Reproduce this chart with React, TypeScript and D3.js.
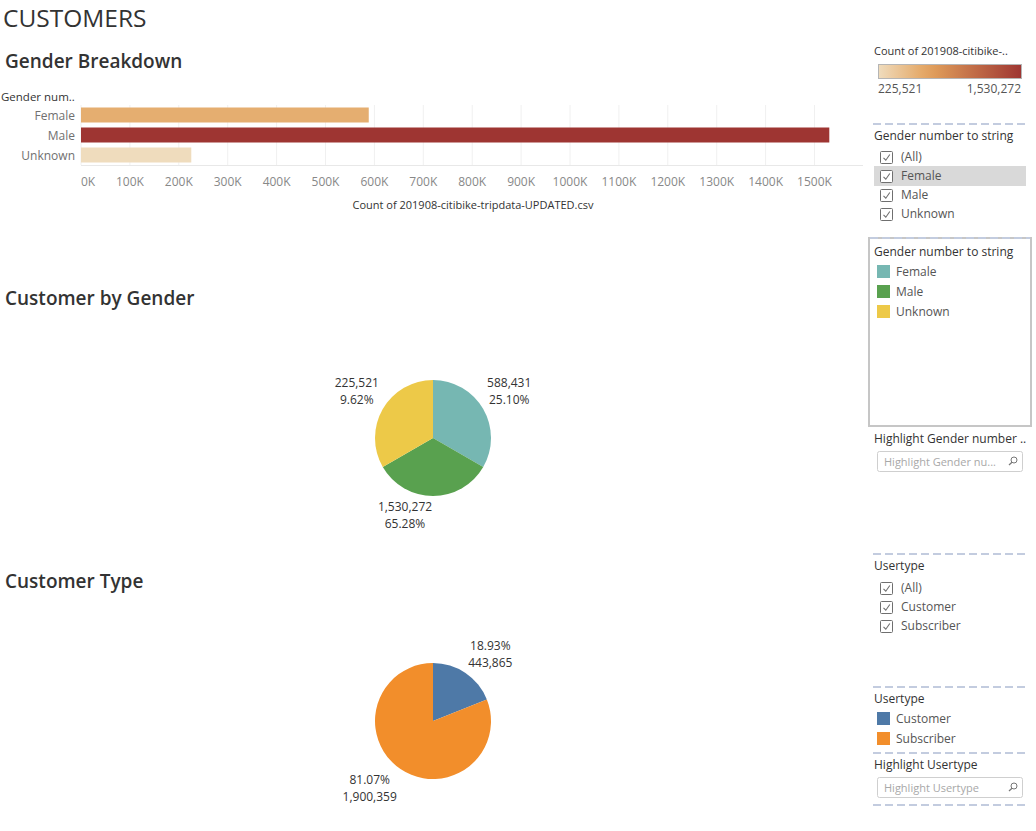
import React from 'react';
import * as d3 from 'd3';

const genders = ['Female', 'Male', 'Unknown'];
const genderCounts = [588431, 1530272, 225521];
// the gender pie's angle encodes a distinct count (one per gender), so the slices are equal
const genderSliceCount = [1, 1, 1];
const genderPieColors = ['#76b7b2', '#59a14f', '#edc948'];
const xTickValues = [0, 100000, 200000, 300000, 400000, 500000, 600000, 700000, 800000, 900000, 1000000, 1100000, 1200000, 1300000, 1400000, 1500000];
const userTypes = ['Customer', 'Subscriber'];
const userTypeCounts = [443865, 1900359];
const userTypeColors = ['#4e79a7', '#f28e2b'];
const genderFilterItems = ['(All)', 'Female', 'Male', 'Unknown'];
const userFilterItems = ['(All)', 'Customer', 'Subscriber'];

const FONT = '"Open Sans", "DejaVu Sans", sans-serif';
const fmt = d3.format(',');
const pct = (v: number, t: number) => (100 * v / t).toFixed(2) + '%';
const DY = 1; // baseline correction for "middle" text

function CheckBox({ x, y }: { x: number; y: number }) {
  return (
    <g transform={`translate(${x},${y})`}>
      <rect x={0.5} y={0.5} width={12} height={12} rx={1} fill="#fff" stroke="#6f6f6f" />
      <path d="M3.5 6.8 L5.8 9.2 L9.8 3.5" fill="none" stroke="#6f6f6f" strokeWidth={1.1} />
    </g>
  );
}

function SearchBox({ x, y, w, h, text }: { x: number; y: number; w: number; h: number; text: string }) {
  return (
    <g>
      <rect x={x + 0.5} y={y + 0.5} width={w} height={h} rx={2} fill="#fff" stroke="#cfcfcf" />
      <text x={x + 7} y={y + h / 2 + 1 + DY} fontSize={11} fill="#a8a8a8" dominantBaseline="middle" fontFamily={FONT}>{text}</text>
      <circle cx={x + w - 8} cy={y + h / 2 - 1} r={3} fill="none" stroke="#777" strokeWidth={1} />
      <line x1={x + w - 10} y1={y + h / 2 + 1.2} x2={x + w - 13} y2={y + h / 2 + 4} stroke="#777" strokeWidth={1.2} />
    </g>
  );
}

function Dash({ y }: { y: number }) {
  return <line x1={873} x2={1026} y1={y} y2={y} stroke="#c3ccdf" strokeWidth={2} strokeDasharray="8 4" />;
}

export default function App() {
  // ---- bar chart
  const x = d3.scaleLinear().domain([0, 1600000]).range([81, 863.4]);
  const y = d3.scaleBand<string>().domain(genders).range([105, 165]).paddingInner(0.25).paddingOuter(0.125);
  const colorExtent = d3.extent(genderCounts) as [number, number];
  const color = d3.scaleLinear<string>()
    .domain([colorExtent[0], colorExtent[0] + 0.35 * (colorExtent[1] - colorExtent[0]), colorExtent[1]])
    .range(['#efdcbd', '#e3a25c', '#9e3532'])
    .interpolate(d3.interpolateRgb);

  // ---- pies
  const R = 58;
  const arc = d3.arc<any>().innerRadius(0).outerRadius(R);
  const labelArc = d3.arc<any>().innerRadius(88).outerRadius(88);
  const gPie = d3.pie<number>().sort(null).value((d, i) => genderSliceCount[i])(genderCounts);
  const uPie = d3.pie<number>().sort(null).value(d => d)(userTypeCounts);
  const gTotal = d3.sum(genderCounts);
  const uTotal = d3.sum(userTypeCounts);
  const gNudge = [[0, -2], [-28, -10], [0, -2]];
  const uNudge = [[8, 7], [-14, -5]];

  return (
    <svg width={1036} height={831} style={{ position: 'absolute', left: 0, top: 0, background: '#fff' }} fontFamily={FONT}>
      <text x={3} y={27} fontSize={24.5} fill="#333">CUSTOMERS</text>

      {/* Gender Breakdown */}
      <text x={5} y={68} fontSize={19} fontWeight={600} fill="#333">Gender Breakdown</text>
      <text x={1} y={97 + DY} fontSize={11.5} fill="#333" dominantBaseline="middle">Gender num..</text>
      {xTickValues.map(t => (
        <line key={t} x1={x(t)} x2={x(t)} y1={105} y2={165} stroke="#f0f0f0" strokeWidth={1} />
      ))}
      <line x1={81} x2={863} y1={165.5} y2={165.5} stroke="#e8e8e8" />
      {genders.map((g, i) => (
        <g key={g}>
          <rect x={x(0)} y={y(g)} width={x(genderCounts[i]) - x(0)} height={y.bandwidth()} fill={color(genderCounts[i])} />
          <text x={75} y={(y(g) as number) + y.bandwidth() / 2 + 0.5 + DY} fontSize={12} fill="#707070" textAnchor="end" dominantBaseline="middle">{g}</text>
        </g>
      ))}
      {xTickValues.map(t => (
        <text key={'l' + t} x={x(t)} y={182 + DY} fontSize={12} fill="#888" textAnchor={t === 0 ? 'start' : 'middle'} dominantBaseline="middle">
          {t / 1000 + 'K'}
        </text>
      ))}
      <text x={473} y={205 + DY} fontSize={11} fill="#333" textAnchor="middle" dominantBaseline="middle">Count of 201908-citibike-tripdata-UPDATED.csv</text>

      {/* Customer by Gender */}
      <text x={5} y={305} fontSize={19} fontWeight={600} fill="#333">Customer by Gender</text>
      <g transform="translate(433,438)">
        {gPie.map((d, i) => <path key={i} d={arc(d) as string} fill={genderPieColors[i]} />)}
        {gPie.map((d, i) => {
          const [cx, cy] = labelArc.centroid(d);
          const lx = cx + gNudge[i][0], ly = cy + gNudge[i][1];
          return (
            <text key={'t' + i} x={lx} fontSize={12} fill="#333" textAnchor="middle">
              <tspan x={lx} y={ly - 8.5} dominantBaseline="middle">{fmt(genderCounts[i])}</tspan>
              <tspan x={lx} y={ly + 8.5} dominantBaseline="middle">{pct(genderCounts[i], gTotal)}</tspan>
            </text>
          );
        })}
      </g>

      {/* Customer Type */}
      <text x={5} y={588} fontSize={19} fontWeight={600} fill="#333">Customer Type</text>
      <g transform="translate(433,721)">
        {uPie.map((d, i) => <path key={i} d={arc(d) as string} fill={userTypeColors[i]} />)}
        {uPie.map((d, i) => {
          const [cx, cy] = labelArc.centroid(d);
          const lx = cx + uNudge[i][0], ly = cy + uNudge[i][1];
          return (
            <text key={'t' + i} x={lx} fontSize={12} fill="#333" textAnchor="middle">
              <tspan x={lx} y={ly - 8.5} dominantBaseline="middle">{pct(userTypeCounts[i], uTotal)}</tspan>
              <tspan x={lx} y={ly + 8.5} dominantBaseline="middle">{fmt(userTypeCounts[i])}</tspan>
            </text>
          );
        })}
      </g>

      {/* Right panel */}
      <defs>
        <linearGradient id="cgrad" x1="0" x2="1" y1="0" y2="0">
          {d3.range(0, 1.0001, 0.1).map(t => (
            <stop key={t} offset={t} stopColor={color(colorExtent[0] + t * (colorExtent[1] - colorExtent[0]))} />
          ))}
        </linearGradient>
      </defs>
      <text x={874} y={51 + DY} fontSize={11} fill="#333" dominantBaseline="middle">Count of 201908-citibike-..</text>
      <rect x={878.5} y={64.5} width={143} height={14} fill="url(#cgrad)" stroke="#b5b5b5" />
      <text x={878} y={89 + DY} fontSize={12} fill="#555" dominantBaseline="middle">{fmt(colorExtent[0])}</text>
      <text x={1021} y={89 + DY} fontSize={12} fill="#555" textAnchor="end" dominantBaseline="middle">{fmt(colorExtent[1])}</text>

      <Dash y={124} />
      <text x={874} y={136 + DY} fontSize={12} fill="#333" dominantBaseline="middle">Gender number to string</text>
      <rect x={874} y={166} width={152} height={20} fill="#d9d9d9" />
      {genderFilterItems.map((g, i) => (
        <g key={g}>
          <CheckBox x={880} y={151 + i * 19} />
          <text x={901} y={157 + i * 19 + DY} fontSize={12} fill="#555" dominantBaseline="middle">{g}</text>
        </g>
      ))}

      <rect x={869} y={238} width={162} height={188} fill="none" stroke="#c6c6c6" strokeWidth={2} />
      <line x1={870} x2={1030} y1={238} y2={238} stroke="#c3ccdf" strokeWidth={2} strokeDasharray="8 4" />
      <text x={874} y={252 + DY} fontSize={12} fill="#333" dominantBaseline="middle">Gender number to string</text>
      {genders.map((g, i) => (
        <g key={g}>
          <rect x={877} y={265 + i * 20} width={13} height={13} fill={genderPieColors[i]} />
          <text x={896} y={272 + i * 20 + DY} fontSize={12} fill="#555" dominantBaseline="middle">{g}</text>
        </g>
      ))}
      <text x={874} y={439 + DY} fontSize={12} fill="#333" dominantBaseline="middle">Highlight Gender number ..</text>
      <SearchBox x={877} y={451} w={145} h={20} text="Highlight Gender nu..." />

      <Dash y={554} />
      <text x={874} y={566 + DY} fontSize={12} fill="#333" dominantBaseline="middle">Usertype</text>
      {userFilterItems.map((g, i) => (
        <g key={g}>
          <CheckBox x={880} y={582 + i * 19} />
          <text x={901} y={588 + i * 19 + DY} fontSize={12} fill="#555" dominantBaseline="middle">{g}</text>
        </g>
      ))}

      <Dash y={687} />
      <text x={874} y={699 + DY} fontSize={12} fill="#333" dominantBaseline="middle">Usertype</text>
      {userTypes.map((g, i) => (
        <g key={g}>
          <rect x={877} y={712 + i * 20} width={13} height={13} fill={userTypeColors[i]} />
          <text x={896} y={719 + i * 20 + DY} fontSize={12} fill="#555" dominantBaseline="middle">{g}</text>
        </g>
      ))}
      <Dash y={753} />
      <text x={874} y={765 + DY} fontSize={12} fill="#333" dominantBaseline="middle">Highlight Usertype</text>
      <SearchBox x={877} y={777} w={145} h={20} text="Highlight Usertype" />
      <Dash y={805} />
    </svg>
  );
}
